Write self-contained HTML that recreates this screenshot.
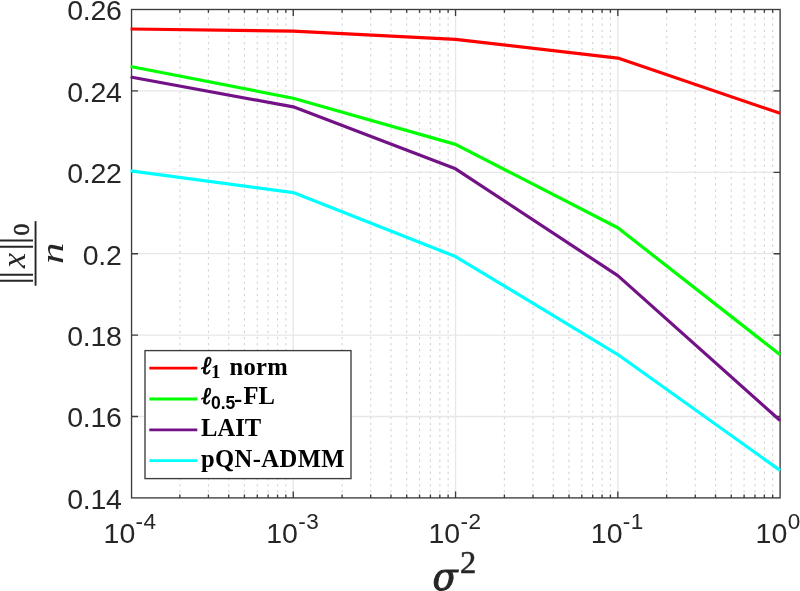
<!DOCTYPE html>
<html><head><meta charset="utf-8"><style>html,body{margin:0;padding:0;background:#fff;}svg{display:block;}</style></head>
<body>
<svg width="800" height="591" viewBox="0 0 800 591">
<rect width="800" height="591" fill="#fff"/>
<path d="M179.85 9.5V497.9M208.42 9.5V497.9M228.70 9.5V497.9M244.43 9.5V497.9M257.27 9.5V497.9M268.14 9.5V497.9M277.55 9.5V497.9M285.85 9.5V497.9M342.12 9.5V497.9M370.70 9.5V497.9M390.97 9.5V497.9M406.70 9.5V497.9M419.55 9.5V497.9M430.41 9.5V497.9M439.82 9.5V497.9M448.12 9.5V497.9M504.40 9.5V497.9M532.97 9.5V497.9M553.25 9.5V497.9M568.98 9.5V497.9M581.82 9.5V497.9M592.69 9.5V497.9M602.10 9.5V497.9M610.40 9.5V497.9M666.67 9.5V497.9M695.25 9.5V497.9M715.52 9.5V497.9M731.25 9.5V497.9M744.10 9.5V497.9M754.96 9.5V497.9M764.37 9.5V497.9M772.67 9.5V497.9" stroke="#d5d5d5" stroke-width="1.15" stroke-dasharray="2.3 3.842" stroke-dashoffset="4.43" fill="none"/>
<path d="M293.27 9.5V497.9M455.55 9.5V497.9M617.83 9.5V497.9M131.55 416.50H780.1M131.55 335.10H780.1M131.55 253.70H780.1M131.55 172.30H780.1M131.55 90.90H780.1" stroke="#e7e7e7" stroke-width="1.3" fill="none"/>
<path d="M293.27 497.9v-6.5M293.27 9.5v6.5M455.55 497.9v-6.5M455.55 9.5v6.5M617.83 497.9v-6.5M617.83 9.5v6.5M179.85 497.9v-3.3M179.85 9.5v3.3M208.42 497.9v-3.3M208.42 9.5v3.3M228.70 497.9v-3.3M228.70 9.5v3.3M244.43 497.9v-3.3M244.43 9.5v3.3M257.27 497.9v-3.3M257.27 9.5v3.3M268.14 497.9v-3.3M268.14 9.5v3.3M277.55 497.9v-3.3M277.55 9.5v3.3M285.85 497.9v-3.3M285.85 9.5v3.3M342.12 497.9v-3.3M342.12 9.5v3.3M370.70 497.9v-3.3M370.70 9.5v3.3M390.97 497.9v-3.3M390.97 9.5v3.3M406.70 497.9v-3.3M406.70 9.5v3.3M419.55 497.9v-3.3M419.55 9.5v3.3M430.41 497.9v-3.3M430.41 9.5v3.3M439.82 497.9v-3.3M439.82 9.5v3.3M448.12 497.9v-3.3M448.12 9.5v3.3M504.40 497.9v-3.3M504.40 9.5v3.3M532.97 497.9v-3.3M532.97 9.5v3.3M553.25 497.9v-3.3M553.25 9.5v3.3M568.98 497.9v-3.3M568.98 9.5v3.3M581.82 497.9v-3.3M581.82 9.5v3.3M592.69 497.9v-3.3M592.69 9.5v3.3M602.10 497.9v-3.3M602.10 9.5v3.3M610.40 497.9v-3.3M610.40 9.5v3.3M666.67 497.9v-3.3M666.67 9.5v3.3M695.25 497.9v-3.3M695.25 9.5v3.3M715.52 497.9v-3.3M715.52 9.5v3.3M731.25 497.9v-3.3M731.25 9.5v3.3M744.10 497.9v-3.3M744.10 9.5v3.3M754.96 497.9v-3.3M754.96 9.5v3.3M764.37 497.9v-3.3M764.37 9.5v3.3M772.67 497.9v-3.3M772.67 9.5v3.3M131.55 416.50h6.5M780.1 416.50h-6.5M131.55 335.10h6.5M780.1 335.10h-6.5M131.55 253.70h6.5M780.1 253.70h-6.5M131.55 172.30h6.5M780.1 172.30h-6.5M131.55 90.90h6.5M780.1 90.90h-6.5" stroke="#3c3c3c" stroke-width="1.35" fill="none"/>
<rect x="131.55" y="9.5" width="648.55" height="488.40" stroke="#3c3c3c" stroke-width="1.35" fill="none"/>
<polyline points="130.60,29.00 293.27,31.15 455.55,39.45 617.83,58.05 780.10,113.35" stroke="#ff0000" stroke-width="3.2" fill="none" stroke-linejoin="round"/>
<polyline points="130.60,66.50 293.27,98.25 455.55,144.35 617.83,227.75 780.10,354.75" stroke="#00ff00" stroke-width="3.2" fill="none" stroke-linejoin="round"/>
<polyline points="130.60,77.00 293.27,106.85 455.55,168.85 617.83,275.65 780.10,420.55" stroke="#731287" stroke-width="3.2" fill="none" stroke-linejoin="round"/>
<polyline points="130.60,170.90 293.27,192.55 455.55,256.55 617.83,354.55 780.10,470.35" stroke="#00ffff" stroke-width="3.2" fill="none" stroke-linejoin="round"/>
<g font-family="'Liberation Sans', sans-serif" font-size="28.5" letter-spacing="-0.3" fill="#262626" text-anchor="end">
<text x="121.5" y="508.80">0.14</text>
<text x="121.5" y="427.40">0.16</text>
<text x="121.5" y="346.00">0.18</text>
<text x="121.5" y="264.60">0.2</text>
<text x="121.5" y="183.20">0.22</text>
<text x="121.5" y="101.80">0.24</text>
<text x="121.5" y="20.40">0.26</text>
</g>
<g font-family="'Liberation Sans', sans-serif" font-size="28.5" fill="#262626">
<text x="130.00" y="542.75" text-anchor="middle">10<tspan font-size="22.5" letter-spacing="0.4" dx="0.35" dy="-13.7">-4</tspan></text>
<text x="292.67" y="542.75" text-anchor="middle">10<tspan font-size="22.5" letter-spacing="0.4" dx="0.35" dy="-13.7">-3</tspan></text>
<text x="454.95" y="542.75" text-anchor="middle">10<tspan font-size="22.5" letter-spacing="0.4" dx="0.35" dy="-13.7">-2</tspan></text>
<text x="617.23" y="542.75" text-anchor="middle">10<tspan font-size="22.5" letter-spacing="0.4" dx="0.35" dy="-13.7">-1</tspan></text>
<text x="778.10" y="542.75" text-anchor="middle">10<tspan font-size="22.5" letter-spacing="0.4" dx="0.35" dy="-13.7">0</tspan></text>
</g>
<g font-family="'Liberation Serif', serif" fill="#262626">
<text transform="translate(432.6 590.2) scale(0.92 1)" font-size="40" font-family="'DejaVu Serif', serif" font-style="italic" stroke="#262626" stroke-width="1">σ</text>
<text x="460.1" y="573" font-size="32.5" stroke="#262626" stroke-width="0.5">2</text>
</g>
<g transform="translate(35.5 253.5) rotate(-90)" font-family="'Liberation Serif', serif" fill="#262626">
<rect x="-32.2" y="-0.9" width="64.5" height="1.9"/>
<text x="-31.00" y="-10.2" font-size="38">|</text>
<text x="-24.90" y="-10.2" font-size="38">|</text>
<text x="3.10" y="-10.2" font-size="38">|</text>
<text x="9.30" y="-10.2" font-size="38">|</text>
<text x="-14.4" y="-10.6" font-size="34" font-style="italic">x</text>
<text x="18.3" y="-6.3" font-size="23" stroke="#262626" stroke-width="0.6">0</text>
<text transform="translate(-10.54 27.8) scale(1.328 1)" font-size="32.3" font-style="italic">n</text>
</g>
<rect x="145" y="350.6" width="206" height="128" fill="#fff" stroke="#3c3c3c" stroke-width="1.35"/>
<path d="M149.3 368.2H197.3" stroke="#ff0000" stroke-width="2.8"/>
<path d="M149.3 399.0H197.3" stroke="#00ff00" stroke-width="2.8"/>
<path d="M149.3 429.8H197.3" stroke="#731287" stroke-width="2.8"/>
<path d="M149.3 460.6H197.3" stroke="#00ffff" stroke-width="2.8"/>
<g font-family="'Liberation Serif', serif" font-size="24.6" font-weight="bold" fill="#000">
<text x="201.2" y="373.65" font-size="25" font-style="italic" stroke="#000" stroke-width="0.7">ℓ</text>
<text x="211" y="378.25" font-size="19">1</text>
<text x="229.5" y="374.9" letter-spacing="0.25">norm</text>
<text x="201.4" y="403.55" font-size="24" font-style="italic" stroke="#000" stroke-width="0.7">ℓ</text>
<text x="211" y="408.6" font-size="17.5" font-family="'Liberation Sans', sans-serif">0.5</text>
<text x="234" y="403.5"><tspan dy="3.6">-</tspan><tspan dx="1.2" dy="-3.6">FL</tspan></text>
<text x="201" y="435.5">LAIT</text>
<text x="201" y="466.9" letter-spacing="0.4">pQN-ADMM</text>
</g>
</svg>
</body></html>
